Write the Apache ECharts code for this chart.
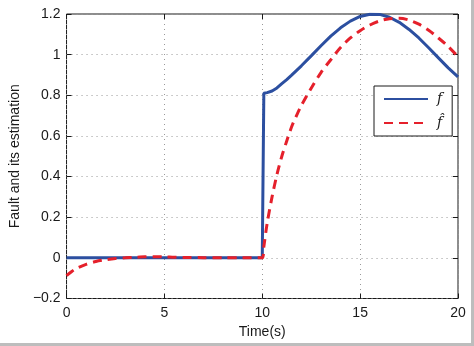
<!DOCTYPE html>
<html>
<head>
<meta charset="utf-8">
<script src="https://cdn.jsdelivr.net/npm/echarts@6/dist/echarts.min.js"></script>
<style>
  html, body { margin: 0; padding: 0; background: #fff; }
  #chart { width: 474px; height: 346px; }
</style>
</head>
<body>
<div id="chart"></div>
<script>
// Time samples (s) and fault signal f
const faultTime = [0, 2, 4, 6, 8, 10, 10.08, 10.25, 10.5, 10.75, 11, 11.25, 11.5, 12, 12.5, 13, 13.5, 14, 14.5, 15, 15.5, 16, 16.5, 17, 17.5, 18, 18.5, 19, 19.5, 20];
const faultValue = [0, 0, 0, 0, 0, 0, 0.81, 0.813, 0.821, 0.836, 0.857, 0.877, 0.899, 0.945, 0.994, 1.044, 1.091, 1.132, 1.165, 1.188, 1.199, 1.198, 1.184, 1.159, 1.124, 1.082, 1.034, 0.984, 0.935, 0.891];

// Time samples (s) and estimated fault f-hat
const estTime = [0, 0.25, 0.5, 1, 1.5, 2, 2.5, 3, 3.5, 4, 4.5, 5, 5.5, 6, 7, 8, 9, 10, 10.08, 10.25, 10.5, 10.75, 11, 11.25, 11.5, 11.75, 12, 12.5, 13, 13.5, 14, 14.5, 15, 15.5, 16, 16.5, 17, 17.5, 18, 18.5, 19, 19.5, 20];
const estValue = [-0.088, -0.068, -0.052, -0.032, -0.018, -0.009, -0.003, 0, 0.003, 0.005, 0.006, 0.005, 0.003, 0.002, 0.001, 0, 0, 0, 0.055, 0.17, 0.30, 0.41, 0.50, 0.575, 0.645, 0.70, 0.75, 0.835, 0.912, 0.975, 1.035, 1.082, 1.118, 1.146, 1.166, 1.177, 1.179, 1.170, 1.150, 1.120, 1.082, 1.040, 0.99];

const xTicks = [0, 5, 10, 15, 20];
const yTicks = [-0.2, 0, 0.2, 0.4, 0.6, 0.8, 1, 1.2];

const pairs = (xs, ys) => xs.map((x, i) => [x, ys[i]]);

const FONT = 'Liberation Sans, Arial, sans-serif';
const INK = '#1a1a1a';
const gridLine = { show: true, lineStyle: { color: '#999999', width: 1, type: [1, 4] } };
const tickIn = { show: true, inside: true, length: 5, lineStyle: { color: INK } };

const chart = echarts.init(document.getElementById('chart'), null, { renderer: 'canvas' });
chart.setOption({
  animation: false,
  backgroundColor: '#fff',
  grid: {
    left: 62, right: 16, top: 14, bottom: 47.5,
    show: true, borderColor: INK, borderWidth: 1, backgroundColor: 'transparent'
  },
  xAxis: [{
    type: 'value', min: 0, max: 20, interval: 5,
    name: 'Time(s)', nameLocation: 'middle', nameGap: 22,
    nameTextStyle: { fontFamily: FONT, fontSize: 14, color: INK },
    axisLine: { show: false, onZero: false },
    axisTick: tickIn,
    axisLabel: {
      margin: 8, fontFamily: FONT, fontSize: 14, color: INK,
      formatter: v => String(xTicks.find(k => Math.abs(k - v) < 1e-6) ?? v)
    },
    splitLine: gridLine
  }, {
    type: 'value', min: 0, max: 20, interval: 5, position: 'top',
    axisLine: { show: false, onZero: false },
    axisTick: tickIn,
    axisLabel: { show: false }, splitLine: { show: false }
  }],
  yAxis: [{
    type: 'value', min: -0.2, max: 1.2, interval: 0.2,
    name: 'Fault and its estimation', nameLocation: 'middle', nameGap: 40,
    nameTextStyle: { fontFamily: FONT, fontSize: 14, color: INK },
    axisLine: { show: false, onZero: false },
    axisTick: tickIn,
    axisLabel: {
      margin: 6, fontFamily: FONT, fontSize: 14, color: INK,
      formatter: v => {
        const t = yTicks.find(k => Math.abs(k - v) < 1e-6);
        const s = String(Math.round((t === undefined ? v : t) * 10) / 10);
        return s.replace('-', '\u2212');
      }
    },
    splitLine: gridLine
  }, {
    type: 'value', min: -0.2, max: 1.2, interval: 0.2, position: 'right',
    axisLine: { show: false, onZero: false },
    axisTick: tickIn,
    axisLabel: { show: false }, splitLine: { show: false }
  }],
  legend: {
    left: 374, top: 86, orient: 'vertical',
    backgroundColor: '#fff', borderColor: INK, borderWidth: 1,
    padding: [6, 10, 6, 9], itemWidth: 44, itemHeight: 14, itemGap: 10,
    itemStyle: { opacity: 0 },
    textStyle: { fontFamily: 'DejaVu Serif, serif', fontStyle: 'italic', fontSize: 14, color: INK, padding: [0, 0, 0, 4] },
    data: [{ name: 'f' }, { name: 'f\u0302' }]
  },
  series: [{
    name: 'f', type: 'line', xAxisIndex: 0, yAxisIndex: 0,
    data: pairs(faultTime, faultValue),
    showSymbol: false, symbol: 'none',
    lineStyle: { color: '#2c4fa0', width: 3 },
    itemStyle: { color: '#2c4fa0' },
    z: 3
  }, {
    name: 'f\u0302', type: 'line', xAxisIndex: 0, yAxisIndex: 0,
    data: pairs(estTime, estValue),
    showSymbol: false, symbol: 'none', smooth: 0.3,
    lineStyle: { color: '#e5202b', width: 3, type: [9, 6] },
    itemStyle: { color: '#e5202b' },
    z: 4
  }],
  graphic: [
    { type: 'rect', shape: { x: 471, y: 0, width: 3, height: 346 }, style: { fill: '#bdbdbd' }, silent: true },
    { type: 'rect', shape: { x: 0, y: 343, width: 474, height: 3 }, style: { fill: '#bdbdbd' }, silent: true }
  ]
});
</script>
</body>
</html>
